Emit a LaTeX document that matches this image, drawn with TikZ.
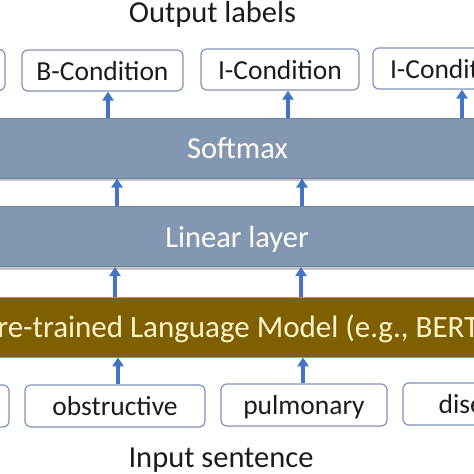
\documentclass[tikz,border=0pt]{standalone}
\usepackage{fontspec}
\setmainfont{Carlito}
\usetikzlibrary{arrows.meta,shadows}
\definecolor{barfill}{RGB}{132,151,176}
\definecolor{barline}{RGB}{110,130,160}
\definecolor{lmfill}{RGB}{127,96,0}
\definecolor{lmtext}{RGB}{255,242,204}
\definecolor{boxline}{RGB}{128,146,184}
\definecolor{arrowc}{RGB}{68,114,196}
\definecolor{txt}{RGB}{28,28,28}
\begin{document}
\begin{tikzpicture}[x=1pt,y=-1pt,
  lbl/.style={font=\fontsize{30.5}{34}\selectfont, text=txt, inner sep=0pt},
  obox/.style={draw=boxline, line width=1.2pt, rounded corners=6pt, fill=white,
    minimum height=41pt, inner sep=0pt, text height=19pt, text depth=0pt,
    font=\fontsize{27.5}{30}\selectfont, text=txt},
  bar/.style={minimum width=560pt, minimum height=60pt, inner sep=0pt,
    text height=21pt, text depth=0pt, font=\fontsize{30.5}{34}\selectfont},
  sbar/.style={bar, fill=barfill, draw=barline, line width=1pt, text=white,
    drop shadow={shadow xshift=0pt, shadow yshift=-3pt, opacity=0.45}},
  lmbar/.style={bar, fill=lmfill, draw=arrowc!70, line width=0.8pt, text=lmtext,
    font=\fontsize{31}{34}\selectfont},
  arr/.style={draw=arrowc, line width=3.2pt, -{Triangle[width=11pt,length=9pt]}}]
\useasboundingbox (0,0) rectangle (474,474);
\fill[white] (0,0) rectangle (474,474);
\clip (0,0) rectangle (474,474);

% labels
\node[lbl, anchor=base] (outlbl) at (212.5,22) {Output labels};
\node[lbl, anchor=base] (inlbl) at (221,467) {Input sentence};

% output boxes
\node[obox, minimum width=160pt] (b0) at (-75,70) {};
\node[obox, minimum width=161pt] (b1) at (102.5,70.5) {B-Condition};
\node[obox, minimum width=158pt] (b2) at (280,69.5) {I-Condition};
\node[obox, minimum width=158pt] (b3) at (452,68.5) {I-Condition};

% bars
\node[sbar] (soft) at (237.5,148) {Softmax};
\node[sbar] (lin) at (237,236.5) {Linear layer};
\node[lmbar] (lm) at (235,327) {Pre-trained Language Model (e.g., BERT)};

% input boxes
\node[obox, minimum width=178pt, minimum height=42pt] (i0) at (-80,406) {};
\node[obox, minimum width=180pt, minimum height=42pt] (i1) at (115,406) {obstructive};
\node[obox, minimum width=166pt, minimum height=42pt] (i2) at (304,405) {pulmonary};
\node[obox, minimum width=154pt, minimum height=42pt] (i3) at (480,404) {disease};

% arrow x positions
\coordinate (xa1) at (108,0);
\coordinate (xa2) at (288,0);
\coordinate (xa3) at (462,0);
\coordinate (xb1) at (117,0);
\coordinate (xb2) at (302,0);
\coordinate (xc1) at (115,0);
\coordinate (xc2) at (301,0);
\coordinate (xd1) at (118,0);
\coordinate (xd2) at (303,0);

\draw[arr] (soft.north -| xa1) -- (b1.south -| xa1);
\draw[arr] (soft.north -| xa2) -- (b2.south -| xa2);
\draw[arr] (soft.north -| xa3) -- (b3.south -| xa3);
\draw[arr] (lin.north -| xb1) -- (soft.south -| xb1);
\draw[arr] (lin.north -| xb2) -- (soft.south -| xb2);
\draw[arr] (lm.north -| xc1) -- (lin.south -| xc1);
\draw[arr] (lm.north -| xc2) -- (lin.south -| xc2);
\draw[arr] (i1.north -| xd1) -- (lm.south -| xd1);
\draw[arr] (i2.north -| xd2) -- (lm.south -| xd2);
\end{tikzpicture}
\end{document}
